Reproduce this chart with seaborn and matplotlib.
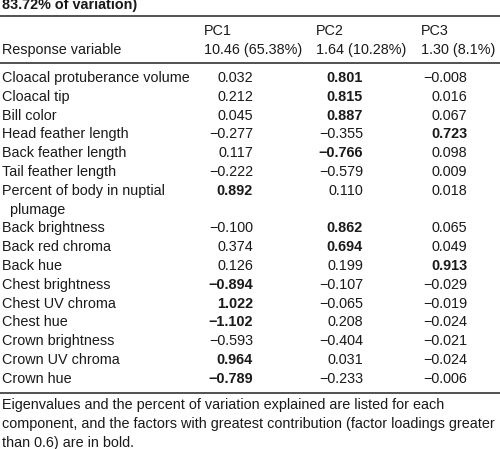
import matplotlib
matplotlib.use('Agg')
import matplotlib.pyplot as plt
import seaborn as sns

sns.set_theme(style='white')
plt.rcParams['font.family'] = ['Liberation Sans', 'DejaVu Sans']

# table contents
variables = [
    'Cloacal protuberance volume', 'Cloacal tip', 'Bill color',
    'Head feather length', 'Back feather length', 'Tail feather length',
    'Percent of body in nuptial\n  plumage', 'Back brightness', 'Back red chroma',
    'Back hue', 'Chest brightness', 'Chest UV chroma', 'Chest hue',
    'Crown brightness', 'Crown UV chroma', 'Crown hue',
]
pc1 = [0.032, 0.212, 0.045, -0.277, 0.117, -0.222, 0.892, -0.100, 0.374,
       0.126, -0.894, 1.022, -1.102, -0.593, 0.964, -0.789]
pc2 = [0.801, 0.815, 0.887, -0.355, -0.766, -0.579, 0.110, 0.862, 0.694,
       0.199, -0.107, -0.065, 0.208, -0.404, 0.031, -0.233]
pc3 = [-0.008, 0.016, 0.067, 0.723, 0.098, 0.009, 0.018, 0.065, 0.049,
       0.913, -0.029, -0.019, -0.024, -0.021, -0.024, -0.006]
components = ['PC1', 'PC2', 'PC3']
eigen_labels = ['10.46 (65.38%)', '1.64 (10.28%)', '1.30 (8.1%)']
title_tail = '83.72% of variation)'
footnote = ('Eigenvalues and the percent of variation explained are listed for each\n'
            'component, and the factors with greatest contribution (factor loadings greater\n'
            'than 0.6) are in bold.')

fs = 10.4
txt = '#1a1a1a'
line_col = '#333333'

fig = plt.figure(figsize=(5, 4.49), dpi=100)
ax = fig.add_axes([0, 0, 1, 1])
ax.set_xlim(0, 500)
ax.set_ylim(449, 0)
ax.axis('off')


def fmt(v):
    s = f'{abs(v):.3f}'
    return ('\u2212' + s) if v < 0 else s


# tail of the title, at the very top of the crop
ax.text(2, 9.5, title_tail, fontsize=fs, fontweight='bold', color=txt, va='baseline')

for yl in (16, 63, 393):
    ax.axhline(yl, color=line_col, lw=1.2)

col_left = [204, 316, 421]
col_right = [253, 363, 467]
for x, c, e in zip(col_left, components, eigen_labels):
    ax.text(x, 35, c, fontsize=fs, color=txt, va='baseline')
    ax.text(x, 54, e, fontsize=fs, color=txt, va='baseline')
ax.text(2, 54, 'Response variable', fontsize=fs, color=txt, va='baseline')

step = 18.8
y = 82
for name, a, b, c in zip(variables, pc1, pc2, pc3):
    ax.text(2, y, name.split('\n')[0], fontsize=fs, color=txt, va='baseline')
    if '\n' in name:
        ax.text(2, y + step, name.split('\n')[1], fontsize=fs, color=txt, va='baseline')
    for x, v in zip(col_right, (a, b, c)):
        ax.text(x, y, fmt(v), fontsize=fs, color=txt, va='baseline', ha='right',
                fontweight='bold' if abs(v) > 0.6 else 'normal')
    y += step * (2 if '\n' in name else 1)

for i, line in enumerate(footnote.split('\n')):
    ax.text(2, 409 + i * 19, line, fontsize=fs, color=txt, va='baseline')

fig.savefig('out.png', dpi=100)
